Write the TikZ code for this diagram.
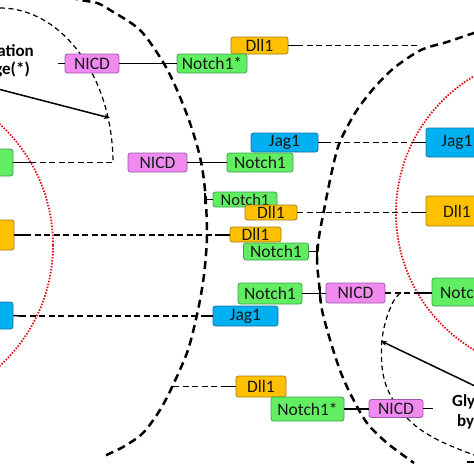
\documentclass[tikz,border=0pt]{standalone}
\usepackage{fontspec}
\setmainfont{Carlito}
\usetikzlibrary{arrows.meta}
\definecolor{nicdfill}{HTML}{F08AF0}
\definecolor{nicdline}{HTML}{9A5AA8}
\definecolor{notchfill}{HTML}{62EE62}
\definecolor{notchline}{HTML}{3F9F4F}
\definecolor{dllfill}{HTML}{FFC000}
\definecolor{dllline}{HTML}{A67C10}
\definecolor{jagfill}{HTML}{00B0F0}
\definecolor{jagline}{HTML}{1A72A8}
\definecolor{redc}{HTML}{E0101A}
\begin{document}
\begin{tikzpicture}[x=1pt,y=-1pt,
  box/.style={draw, rounded corners=2.5pt, line width=0.8pt, inner sep=0pt,
    text=black!90, font=\fontsize{17.5}{20}\selectfont},
  nicd/.style={box, fill=nicdfill, draw=nicdline},
  notch/.style={box, fill=notchfill, draw=notchline},
  dll/.style={box, fill=dllfill, draw=dllline},
  jag/.style={box, fill=jagfill, draw=jagline},
  conn/.style={line width=1.5pt, black},
  dconn/.style={conn, dash pattern=on 6pt off 3.5pt},
  membrane/.style={line width=2.5pt, black, dash pattern=on 8pt off 5pt},
  vesicle/.style={line width=1.2pt, black, dash pattern=on 5pt off 3.5pt},
  reddot/.style={line width=1.8pt, draw=redc, dash pattern=on 1.5pt off 1.5pt},
  lbl/.style={font=\bfseries\fontsize{17}{20}\selectfont, text=black, inner sep=0pt},
  arr/.style={conn, -{Stealth[length=6pt,width=5pt]}}
]
\useasboundingbox (0,0) rectangle (474,474);
\fill[white] (0,0) rectangle (474,474);
\clip (0,0) rectangle (474,474);

% cell outlines
\draw[reddot] (-111,245) circle[radius=164pt];
\draw[reddot] (555,213) circle[radius=159pt];
\draw[membrane] plot[smooth] coordinates {(70,-3) (80,0) (97,3) (110,10) (140,30) (163,62) (177,90) (190,123) (200,157) (205,190) (207,235) (204,275) (198,310) (188,350) (173,385) (160,410) (143,433) (123,447) (102,457)};
\draw[membrane] plot[smooth] coordinates {(500,25) (474,33) (447,42) (421,50) (394,68) (374,88) (357,110) (344,133) (337,150) (330,180) (324,210) (319,237) (317,260) (319,283) (322,310) (331,343) (341,373) (352,397) (367,423) (387,443) (414,463)};
\draw[vesicle] plot[domain=90:0, samples=60] ({113*cos(\x)}, {163-155*sin(\x)});
\draw[vesicle] plot[smooth] coordinates {(400,293) (393,302) (386,320) (382,340) (382,367) (387,388) (399,409) (417,427) (440,441) (474,455) (495,460)};

% boxes
\node[notch, minimum width=53pt, minimum height=27pt] (greenL) at (-13.5,162.5) {};
\node[dll, minimum width=54pt, minimum height=30pt] (orangeL) at (-13,235) {};
\node[jag, minimum width=53pt, minimum height=27pt] (blueL) at (-13.5,315.5) {};

\node[dll, minimum width=57pt, minimum height=17pt] (dllA) at (259.5,45.5) {Dll1};
\node[notch, minimum width=70pt, minimum height=19pt] (notchA) at (212,63.5) {Notch1*};
\node[nicd, minimum width=54pt, minimum height=19pt] (nicdA) at (92,63.5) {NICD};

\node[nicd, minimum width=59pt, minimum height=19pt] (nicdB) at (157.5,162.5) {NICD};
\node[jag, minimum width=67pt, minimum height=19pt] (jagB) at (284.5,142.5) {Jag1};
\node[notch, minimum width=66pt, minimum height=19pt] (notchB) at (260,162.5) {Notch1};
\node[jag, minimum width=62pt, minimum height=29pt] (jagR) at (457,142.5) {Jag1};

\node[notch, minimum width=64pt, minimum height=15pt, text depth=0pt, font=\fontsize{16.5}{18}\selectfont] (notchS) at (245,199.5) {Notch1};
\node[dll, minimum width=52pt, minimum height=15pt] (dllS) at (271,212.5) {Dll1};
\node[dll, minimum width=62pt, minimum height=30pt] (dllR) at (457,211) {Dll1};

\node[dll, minimum width=51pt, minimum height=15pt] (dllM) at (255.5,234.5) {Dll1};
\node[notch, minimum width=65pt, minimum height=17pt] (notchM) at (276,251.5) {Notch1};

\node[notch, minimum width=64pt, minimum height=21pt] (notchL) at (270,293.5) {Notch1};
\node[nicd, minimum width=59pt, minimum height=20pt] (nicdL) at (355.5,293) {NICD};
\node[notch, minimum width=68pt, minimum height=28pt] (notchR) at (466,292) {Notch1};
\node[jag, minimum width=65pt, minimum height=20pt] (jagL) at (245.5,316) {Jag1};

\node[dll, minimum width=50pt, minimum height=21pt] (dllBot) at (261,386.5) {Dll1};
\node[notch, minimum width=73pt, minimum height=24pt] (notchBot) at (307.5,409) {Notch1*};
\node[nicd, minimum width=54pt, minimum height=18pt] (nicdBot) at (396,408.5) {NICD};

% labels
\node[lbl, anchor=east] (labA1) at (34,51) {ation};
\node[lbl, anchor=east] (labA2) at (30,70) {ge(*)};
\node[lbl, anchor=west] (labB1) at (452,402) {Gly};
\node[lbl, anchor=west] (labB2) at (457,422) {by};

% helper coordinates
\coordinate (a1) at (297,45.5);  \coordinate (a2) at (420,45.5);
\coordinate (n1) at (58,63.5);
\coordinate (g1) at (30,162.5);  \coordinate (g2) at (113,162.5);
\coordinate (j1) at (325,142.5); \coordinate (j2) at (413,142.5);
\coordinate (s1) at (205,198);
\coordinate (d1) at (411,212.5);
\coordinate (o1) at (25,235);    \coordinate (o2) at (217,235);
\coordinate (m1) at (317,251.5);
\coordinate (l1) at (320,293.5);
\coordinate (r1) at (415,293);
\coordinate (b1) at (20,316);    \coordinate (b2) at (205,316);
\coordinate (t0) at (173,386.5); \coordinate (t1) at (225,386.5);
\coordinate (e1) at (433,408.5);
\coordinate (arA0) at (-2,89);   \coordinate (arA1) at (110,118);
\coordinate (arB0) at (477,387); \coordinate (arB1) at (381,341);
\coordinate (st0) at (467,462);  \coordinate (st1) at (476,462);

% connectors
\draw[conn] (dllA.east) -- (a1);
\draw[dconn] (a1) -- (a2);
\draw[conn] (nicdA.west) -- (n1);
\draw[conn] (nicdA.east) -- (notchA.west);
\draw[arr] (arA0) -- (arA1);

\draw[conn] (greenL.east) -- (g1);
\draw[dconn] (g1) -- (g2);
\draw[conn] (nicdB.east) -- (notchB.west);
\draw[conn] (jagB.east) -- (j1);
\draw[dconn] (j1) -- (j2);
\draw[conn] (j2) -- (jagR.west);

\draw[conn] (notchS.west) -- (notchS.west -| s1);
\draw[conn] ([yshift=5pt]s1) -- ([yshift=-6pt]s1);
\draw[dconn] (dllS.east) -- (d1);
\draw[conn] (d1) -- (dllR.west |- d1);

\draw[conn] (orangeL.east) -- (o1);
\draw[dconn] (o1) -- (o2);
\draw[conn] (o2) -- (dllM.west |- o2);

\draw[conn] (notchM.east) -- (m1);
\draw[conn] ([yshift=7pt]m1) -- ([yshift=-7pt]m1);

\draw[conn] (notchL.east) -- (nicdL.west |- notchL.east);
\draw[conn] ([yshift=7pt]l1) -- ([yshift=-7pt]l1);
\draw[dconn] (nicdL.east) -- (r1);
\draw[conn] (r1) -- (notchR.west |- r1);

\draw[conn] (blueL.east) -- (b1);
\draw[dconn] (b1) -- (b2);
\draw[conn] (b2) -- (jagL.west);

\draw[dconn] (t0) -- (t1);
\draw[conn] (t1) -- (dllBot.west);
\draw[conn] (notchBot.east) -- (nicdBot.west |- notchBot.east);
\draw[conn] (nicdBot.east) -- (e1);
\draw[arr] (arB0) -- (arB1);
\draw[conn] (st0) -- (st1);
\end{tikzpicture}
\end{document}
